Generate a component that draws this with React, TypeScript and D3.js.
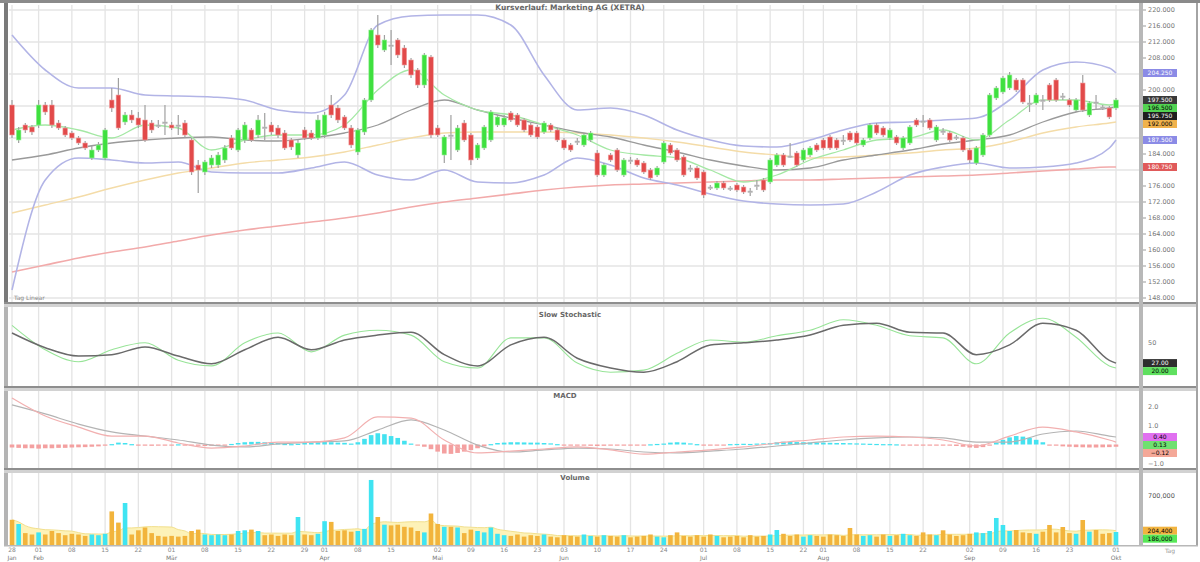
import * as d3 from "d3";
import * as React from "react";

// daily candles (price)
const opens = [
  196.25, 187.5, 191.25, 190.75, 191.25, 196.25, 196.25, 191.75, 190.5, 189.25,
  188, 186.75, 183, 185, 183, 197.5, 198.75, 192, 193.75, 193,
  192.5, 191.75, 191.25, 192, 191.25, 191.25, 191.75, 187.5, 181.25, 179.5,
  181.25, 181.25, 182.5, 188, 185, 187.5, 190, 188.75, 190.75, 191.25,
  190.5, 189.25, 187.5, 183.75, 190, 189.25, 188, 188.75, 196.25, 195.5,
  193.25, 190.5, 184.5, 189.5, 197.5, 213.75, 210, 211.25, 212.5, 210.5,
  207.5, 205, 201.25, 208.25, 190.5, 183.75, 188.75, 185, 191.75, 188.75,
  183, 185.5, 187.5, 191.25, 191.25, 194.25, 193.75, 192.5, 191.25, 190.75,
  189.5, 191.25, 190, 187.5, 186.25, 187.25, 186.25, 187.5, 184.25, 178.75,
  183.75, 185, 178.75, 182.5, 182.5, 181.75, 180, 178.75, 182, 186.25,
  185, 183.25, 180.5, 180.5, 179.5, 175.75, 175.5, 176.75, 175.5, 176.25,
  175.75, 174.75, 176.25, 177.5, 177, 181.25, 183.75, 183.5, 184.25, 182.5,
  183.75, 186.25, 187.5, 188.25, 187.5, 187.5, 189.25, 189.25, 186.25, 188,
  191.25, 190.5, 188, 188.25, 185.5, 186.75, 192.5, 192.25, 192.5, 187.5,
  189.75, 189.25, 188.25, 188, 185, 181.75, 183.75, 188.75, 198, 199.5,
  200.5, 202.5, 202.5, 196.75, 196.75, 197.5, 201.25, 202.5, 198.5, 197.5,
  195, 201.75, 193.75, 197, 195.75, 195.5, 195.5,
];
const highs = [
  197.5, 190.75, 191.75, 191.25, 197.5, 197, 197.5, 192.5, 191, 189.75,
  188.5, 187.25, 186.25, 187, 190.5, 200.5, 203, 194.5, 195, 194.5,
  196.25, 192.5, 192.5, 196.25, 192, 193.75, 192.5, 188, 182.5, 182.5,
  183.75, 184.5, 186.25, 188.75, 190.5, 192, 190.5, 193.75, 194.25, 192,
  191.25, 190, 188, 187.5, 190.75, 190, 193.75, 194.5, 198.75, 196.25,
  193.75, 191.25, 190.5, 198, 215.5, 218.75, 213.75, 215, 213, 211.25,
  208, 205.5, 209.25, 208.75, 191.25, 188.75, 193.75, 191.25, 192.5, 189.25,
  186.75, 191.25, 195, 193.75, 193.75, 194.75, 194.25, 193, 191.75, 191.25,
  192.25, 191.75, 190.5, 188, 186.75, 188, 189.25, 189.75, 185, 181.75,
  184.25, 185.5, 183, 183.25, 183, 182.25, 180.5, 181, 187.25, 186.75,
  185.5, 183.75, 181.25, 181, 180, 176.25, 177.25, 177.25, 176, 176.75,
  176.25, 175.5, 177.5, 178, 183, 184.25, 184.25, 186.75, 184.75, 185.5,
  186, 186.75, 188, 188.75, 188, 188.75, 189.75, 189.75, 188, 191.75,
  191.75, 191, 190.5, 188.75, 188.5, 191.25, 193, 193.75, 193, 191.25,
  190.5, 189.75, 188.75, 188.5, 185.5, 186, 189.25, 199.25, 201, 203.5,
  204.5, 203, 203, 198.75, 199.25, 198.75, 201.75, 203, 199.25, 198,
  198, 203.75, 197.25, 198.75, 196.25, 196, 198,
];
const lows = [
  188, 186.75, 189.25, 188.75, 190.5, 193.75, 190.5, 190, 188.25, 187.5,
  186.25, 185, 182.5, 184.5, 182.5, 194.5, 190, 191.25, 191.75, 190.5,
  187, 189.25, 190.5, 188.75, 190, 188.75, 188, 178.75, 174.25, 178.75,
  180.5, 180.5, 181.75, 185, 184.5, 186.75, 187, 188, 187.5, 188.75,
  188, 185, 185, 183, 187.5, 187.5, 187.5, 188, 193, 191.75,
  190, 185.5, 183.75, 188.75, 197, 210.5, 209.5, 206.25, 208, 205.5,
  203, 200.5, 200.5, 188, 188.25, 181.75, 182.5, 184.5, 187, 181.25,
  182.5, 185, 187, 190.75, 190.75, 192, 190.75, 189.5, 188.25, 187.75,
  189, 189.5, 187, 185, 184.5, 186.25, 185.75, 187, 178.25, 178.25,
  182, 179.5, 178.25, 181.5, 180.75, 179, 177.5, 178.25, 181.5, 183.75,
  182, 178.25, 179.5, 177.5, 173, 175, 175, 175, 174.75, 174.5,
  174, 173.5, 175, 174.5, 176.5, 180.75, 180.75, 183, 180.75, 182,
  183.25, 184.5, 185, 185, 185, 186.25, 187, 186.25, 185.75, 187.5,
  188.75, 188.25, 187.5, 186.25, 185, 186.25, 190.75, 190.75, 190, 187,
  188.75, 187, 187.5, 184.5, 181.75, 181.25, 183.25, 188.25, 197.5, 199,
  200, 199.5, 196.5, 194.5, 196.25, 195, 197, 197, 197.5, 195.75,
  194.5, 194.5, 193.25, 195, 195, 192.75, 195,
];
const closes = [
  188.75, 190, 190, 189.5, 196.25, 194.5, 191.25, 190.5, 188.75, 188,
  186.75, 185.5, 185, 186.25, 190, 195.5, 190.5, 193.75, 192.5, 191.25,
  187.5, 190, 191.25, 192, 190.5, 191.25, 188.75, 179.5, 180, 182,
  183, 183.75, 185.5, 185.5, 190, 191.25, 187.5, 192.5, 190.75, 189.5,
  188.75, 185.5, 185.75, 186.75, 188, 188, 192.5, 193.75, 193.75, 192.5,
  190.5, 186.25, 190, 197.5, 215, 211.25, 212.5, 211.25, 208.75, 206.25,
  203.75, 201.25, 208.75, 188.75, 188.75, 188.25, 188.75, 190.5, 187.5, 182.5,
  186.25, 190.75, 194.5, 193.25, 193, 192.5, 191.25, 190, 188.75, 188.25,
  191.75, 190, 187.5, 185.5, 185, 187.25, 188.75, 189.25, 178.75, 181.25,
  182.5, 180, 182.5, 182.5, 181.25, 179.5, 178, 180.5, 186.75, 184.25,
  182.5, 178.75, 180.5, 178, 173.75, 175.75, 176.75, 175.5, 175.5, 175,
  174.5, 174.75, 176.25, 175, 182.5, 183.75, 181.25, 183.5, 181.25, 185,
  185.5, 185, 185.5, 185.5, 185.5, 187.5, 187.5, 186.75, 187.5, 191.25,
  189.25, 188.75, 190, 186.75, 188, 190.75, 191.25, 192.25, 190.5, 190.75,
  189.75, 187.5, 188.25, 185, 182.5, 185.5, 188.75, 198.75, 200.5, 203,
  203.75, 200, 197, 196.75, 198.75, 197.5, 197.5, 197.5, 198.5, 196.25,
  197.5, 195, 196.75, 197, 195.75, 193.25, 197.5,
];
// volume in thousands
const volumes = [
  360, 300, 170, 150, 180, 150, 200, 170, 140, 160, 150, 130, 150, 140, 160,
  480, 320, 600, 150, 210, 250, 170, 130, 120, 130, 120, 130, 200, 220, 150,
  140, 150, 140, 150, 200, 210, 220, 200, 140, 150, 130, 150, 140, 400, 150,
  140, 160, 340, 330, 200, 210, 190, 200, 230, 929, 400, 290, 280, 290, 260,
  250, 200, 180, 450, 300, 260, 260, 250, 170, 220, 200, 180, 250, 160, 140,
  130, 150, 120, 140, 130, 150, 120, 110, 140, 130, 120, 150, 130, 120, 140,
  130, 120, 140, 110, 120, 130, 150, 120, 110, 140, 180, 130, 120, 140, 120,
  150, 130, 110, 120, 130, 110, 140, 120, 130, 150, 214, 160, 130, 150, 120,
  140, 130, 120, 150, 140, 130, 243, 150, 130, 140, 120, 150, 130, 140, 160,
  140, 130, 180, 150, 140, 210, 150, 130, 140, 160, 180, 170, 200, 386, 286,
  200, 214, 180, 170, 160, 190, 286, 180, 257, 170, 160, 357, 190, 214, 160,
  170, 186,
];

// overlays, read every 5th session (plus the last one)
const upperBand = [213.75, 205, 200.5, 200.5, 198.75, 198.5, 198.25, 197.5, 195, 194.25, 198.75, 216.25, 218.5, 218.75, 218.75, 216.25, 203.75, 195, 195.5, 193.75, 190, 187.5, 186, 185.75, 187.5, 190, 191.75, 192, 192.5, 193, 197.5, 205, 207, 205.5, 204.25];
const lowerBand = [150, 177.5, 183, 182.5, 181.75, 182, 179.5, 179.25, 179.25, 180.5, 182, 178.75, 177.5, 180, 177, 176.75, 178.75, 183, 181.25, 178, 176.25, 174, 172.25, 171.5, 171.25, 171.5, 174.5, 178.75, 180.75, 181.75, 180.5, 180.75, 181.75, 185.5, 187.5];
const maGray = [182.5, 183.75, 185.5, 186.75, 187.5, 188, 188.25, 187.5, 187.25, 188, 189.25, 191.25, 195, 197.5, 195, 193, 191.25, 189.5, 188.25, 186.25, 184.5, 182.5, 181, 180, 180.5, 182.5, 183.75, 185, 186.5, 187.5, 188.75, 192, 194.5, 195.5, 195.75];
const maGreen = [190, 191.25, 190, 188, 191.25, 190.5, 185, 187.5, 188.75, 188.75, 191.25, 200, 205, 198.75, 195, 193.75, 191.25, 188.75, 185, 183.75, 183, 180, 177, 178.75, 182.5, 185, 187.5, 188, 190, 187.5, 192.5, 197.5, 197.5, 196.25, 196.5];
const maYellow = [169.25, 171.25, 173.25, 175.5, 177.5, 179.25, 180.5, 181.75, 182.5, 183.25, 184.5, 186.25, 188, 189.25, 189.5, 189.5, 189.5, 189.25, 188.75, 188, 187, 185.75, 184.5, 183.75, 183, 183.25, 183.75, 184.25, 185, 185.5, 187, 189.25, 190.75, 191.75, 192];
const maRed = [154.5, 156.25, 158, 159.5, 160.75, 162.25, 163.75, 165, 166, 167, 168, 169.25, 170.75, 172, 173, 174, 175, 175.75, 176.25, 176.5, 176.75, 177, 177.25, 177.5, 177.5, 177.75, 178, 178.25, 178.5, 178.75, 179.25, 179.75, 180.25, 180.75, 180.75];

const stochSlow = [70, 49, 37, 39, 50, 37, 26, 46, 64, 46, 60, 67, 71, 39, 23, 53, 64, 34, 20, 14, 29, 53, 56, 60, 67, 81, 84, 71, 70, 39, 53, 84, 74, 31, 27];
const stochFast = [81, 46, 29, 46, 56, 31, 23, 56, 70, 43, 67, 74, 67, 29, 20, 63, 63, 27, 14, 17, 41, 60, 57, 66, 74, 89, 81, 66, 63, 26, 70, 91, 64, 23, 20];

const macdLine = [2.48, 1.52, 0.93, 0.45, 0.45, 0.08, -0.19, -0.08, 0.13, 0.13, 0.35, 1.47, 1.41, 0.24, -0.45, -0.35, -0.24, -0.13, -0.29, -0.51, -0.4, -0.29, -0.13, 0.08, 0.24, 0.4, 0.45, 0.4, 0.24, -0.08, 0.45, 0.93, 0.67, 0.24, 0.13];
const macdSignal = [2.11, 1.63, 1.09, 0.67, 0.45, 0.24, -0.03, -0.13, 0.03, 0.13, 0.19, 0.77, 1.31, 0.77, -0.03, -0.4, -0.29, -0.19, -0.24, -0.4, -0.45, -0.35, -0.24, -0.08, 0.08, 0.24, 0.35, 0.4, 0.35, 0.13, 0.13, 0.56, 0.72, 0.45, 0.4];
const macdHist = [
  -0.16, -0.18, -0.2, -0.2, -0.22, -0.2, -0.2, -0.18, -0.18, -0.16, -0.15, -0.14, -0.12, -0.1, -0.06,
  0.02, 0.1, 0.08, 0.02, -0.02, -0.05, -0.07, -0.06, -0.04, -0.02, 0.01, -0.02,
  -0.05, -0.07, -0.08, -0.07, -0.05, -0.02, 0.03,
  0.08, 0.12, 0.14, 0.14, 0.12, 0.1, 0.08, 0.03, 0.02, 0.04,
  0.08, 0.1, 0.12, 0.13, 0.12, 0.1, 0.09, 0.05, 0.12,
  0.3, 0.5, 0.6, 0.55, 0.45, 0.35, 0.2, 0.05, -0.05, -0.12,
  -0.25, -0.38, -0.48, -0.5, -0.45, -0.38, -0.3, -0.2, -0.1, 0.02,
  0.08, 0.1, 0.12, 0.12, 0.11, 0.1, 0.1, 0.08, 0.06, 0.02, -0.01, -0.03,
  -0.05, -0.06, -0.07, -0.08, -0.07, -0.06, -0.06, -0.05, -0.04, -0.03, -0.02,
  0.01, 0.03, 0.05, 0.1, 0.12, 0.1, 0.06,
  0.02, -0.03, -0.05, -0.04, -0.02, 0.02, 0.03, 0.04, 0.03, 0.05, 0.06, 0.08,
  0.12, 0.15, 0.14, 0.13, 0.12, 0.11, 0.1, 0.1, 0.09, 0.08, 0.08, 0.07, 0.06, 0.05, 0.04,
  0.03, 0.02, 0.02, 0.01, -0.01, -0.02, -0.03, -0.02, -0.03, -0.04, -0.05, -0.06, -0.08,
  -0.12, -0.16, -0.18, -0.14, -0.06, 0.08,
  0.25, 0.38, 0.45, 0.42, 0.35, 0.25, 0.12,
  -0.02, -0.06, -0.1, -0.12, -0.14, -0.15, -0.16, -0.16, -0.15, -0.14, -0.12,
];

const priceTicks = [220, 216, 212, 208, 204, 200, 196, 192, 188, 184, 180, 176, 172, 168, 164, 160, 156, 152, 148];
const stochTicks = [50];
const macdTicks = [2, 1, -1];
const volumeTicks = [700];
const weekTicks = [0, 4, 9, 14, 19, 24, 29, 34, 39, 44, 47, 52, 57, 64, 69, 74, 79, 83, 88, 93, 98, 104, 109, 114, 119, 122, 127, 132, 137, 144, 149, 154, 159, 166];
const weekLabels = ["28", "01", "08", "15", "22", "01", "08", "15", "22", "29", "01", "08", "15", "02", "09", "16", "23", "03", "10", "17", "24", "01", "08", "15", "22", "01", "08", "15", "22", "02", "09", "16", "23", "01"];
const monthTicks = [0, 4, 24, 47, 64, 83, 104, 122, 144, 166];
const monthLabels = ["Jan", "Feb", "Mär", "Apr", "Mai", "Jun", "Jul", "Aug", "Sep", "Okt"];

const FONT = "'DejaVu Sans', 'Liberation Sans', sans-serif";
const UP = "#3fe03f", DOWN = "#e24a4a", FLAT = "#a8a8a8";

type Tag = { y: number; fill: string; text: string; ink: string };

function stackTags(tags: Tag[]) {
    const s = tags.slice().sort((a, b) => a.y - b.y);
    for (let k = 1; k < s.length; k++) {
        if (s[k].y < s[k - 1].y + 8) s[k].y = s[k - 1].y + 8;
    }
    return s;
}

// axis labels hidden behind a value tag are simply not drawn
const freeOf = (tags: Tag[], y: number) => tags.every(t => Math.abs(t.y - y) > 8);

export default function App() {
    const n = closes.length;
    const x = d3.scaleLinear().domain([0, n - 1]).range([12, 1116]);
    const yP = d3.scaleLinear().domain([148, 220]).range([298, 10]);
    const yS = d3.scaleLinear().domain([0, 100]).range([382, 312]);
    const yM = d3.scaleLinear().domain([-1.2, 2.8]).range([467, 392]);
    const yV = d3.scaleLinear().domain([0, 1000]).range([545, 475]);

    const samples = d3.range(0, n, 5).concat([n - 1]);
    const make = (y: d3.ScaleLinear<number, number>) =>
        d3.line<number>().x((_, k) => x(samples[k])).y(v => y(v)).curve(d3.curveMonotoneX);
    const pLine = make(yP), sLine = make(yS), mLine = make(yM);

    const volMA = volumes.map((_, i) => d3.mean(volumes.slice(Math.max(0, i - 9), i + 1))!);
    const vArea = d3.area<number>().x((_, i) => x(i)).y0(yV(0)).y1(v => yV(v)).curve(d3.curveMonotoneX);
    const vLine = d3.line<number>().x((_, i) => x(i)).y(v => yV(v)).curve(d3.curveMonotoneX);

    const bw = 4.6;
    const dir = (i: number) => closes[i] > opens[i] ? 1 : closes[i] < opens[i] ? -1 : 0;
    const fmt3 = d3.format(".3f");
    const fmt2 = d3.format(".2f");
    const last = (a: number[]) => a[a.length - 1];

    const priceTags = stackTags([
        { y: yP(last(upperBand)), fill: "#8b8be6", text: fmt3(last(upperBand)), ink: "#fff" },
        { y: yP(last(closes)), fill: "#3a3a3a", text: fmt3(last(closes)), ink: "#fff" },
        { y: yP(last(maGreen)), fill: "#52d452", text: fmt3(last(maGreen)), ink: "#000" },
        { y: yP(last(maGray)), fill: "#1e1e1e", text: fmt3(last(maGray)), ink: "#fff" },
        { y: yP(last(maYellow)), fill: "#f0b24c", text: fmt3(last(maYellow)), ink: "#000" },
        { y: yP(last(lowerBand)), fill: "#8b8be6", text: fmt3(last(lowerBand)), ink: "#fff" },
        { y: yP(last(maRed)), fill: "#e05a5a", text: fmt3(last(maRed)), ink: "#fff" },
    ]);
    const stochTags = stackTags([
        { y: yS(last(stochFast)), fill: "#5fe05f", text: fmt2(last(stochFast)), ink: "#000" },
        { y: yS(last(stochSlow)), fill: "#2e2e2e", text: fmt2(last(stochSlow)), ink: "#fff" },
    ]);
    const macdTags = stackTags([
        { y: yM(last(macdSignal)), fill: "#e070f0", text: fmt2(last(macdSignal)), ink: "#000" },
        { y: yM(last(macdLine)), fill: "#70e070", text: fmt2(last(macdLine)), ink: "#000" },
        { y: yM(last(macdHist)), fill: "#f4a898", text: fmt2(last(macdHist)), ink: "#000" },
    ]);
    const volTags = stackTags([
        { y: yV(last(volumes)), fill: "#58e858", text: d3.format(",")(last(volumes) * 1000), ink: "#000" },
        { y: yV(last(volMA)), fill: "#f2b440", text: d3.format(",.0f")(last(volMA) * 1000), ink: "#000" },
    ]);

    const tagEls = (tags: Tag[], key: string) => tags.map((t, k) => (
        <g key={key + k}>
            <rect x={1143} y={t.y - 4} width={34} height={8} fill={t.fill} />
            <text x={1160} y={t.y + 2.3} fontSize={6} textAnchor="middle" fill={t.ink}>{t.text}</text>
        </g>
    ));

    const panels = [
        { id: "pMain", y: 5, h: 297 },
        { id: "pSto", y: 308, h: 78 },
        { id: "pMacd", y: 390, h: 78 },
        { id: "pVol", y: 472, h: 73 },
    ];

    return (
        <svg width={1200} height={562} style={{ position: "absolute", left: 0, top: 0, background: "#fff" }} fontFamily={FONT}>
            <defs>
                {panels.map(p => (
                    <clipPath id={p.id} key={p.id}><rect x={9} y={p.y} width={1130} height={p.h} /></clipPath>
                ))}
            </defs>

            {/* grid */}
            {weekTicks.map(i => (
                <line key={"vg" + i} x1={x(i)} x2={x(i)} y1={5} y2={545} stroke="#e4e4e4" strokeWidth={1.3} />
            ))}
            {priceTicks.filter((_, k) => k % 2 === 0).map(p => (
                <line key={"hg" + p} x1={9} x2={1139} y1={yP(p)} y2={yP(p)} stroke="#e4e4e4" strokeWidth={1.3} />
            ))}

            {/* main panel */}
            <g clipPath="url(#pMain)">
                <path d={pLine(maRed)!} fill="none" stroke="#f2aaaa" strokeWidth={1.6} />
                <path d={pLine(maYellow)!} fill="none" stroke="#f4dca8" strokeWidth={1.4} />
                <path d={pLine(upperBand)!} fill="none" stroke="#b2b4e6" strokeWidth={1.6} />
                <path d={pLine(lowerBand)!} fill="none" stroke="#b2b4e6" strokeWidth={1.6} />
                <path d={pLine(maGray)!} fill="none" stroke="#9a9a9a" strokeWidth={1.3} />
                <path d={pLine(maGreen)!} fill="none" stroke="#a4e8a4" strokeWidth={1.3} />
                {closes.map((c, i) => {
                    const d = dir(i);
                    const col = d > 0 ? UP : d < 0 ? DOWN : FLAT;
                    const top = yP(Math.max(opens[i], c));
                    const h = Math.max(1.5, Math.abs(yP(opens[i]) - yP(c)));
                    return (
                        <g key={"c" + i}>
                            <line x1={x(i)} x2={x(i)} y1={yP(highs[i])} y2={yP(lows[i])} stroke="#a0a0a0" strokeWidth={1.2} />
                            <rect x={x(i) - bw / 2} y={top} width={bw} height={h} fill={col}
                                stroke={d > 0 ? "#9cf09c" : d < 0 ? "#f2a4a4" : "#c4c4c4"} strokeWidth={0.6} />
                        </g>
                    );
                })}
            </g>
            <text x={570} y={10} fontSize={7.5} fontWeight="bold" fill="#666" textAnchor="middle">Kursverlauf: Marketing AG  (XETRA)</text>
            <text x={14} y={300} fontSize={6} fill="#888">Tag  Linear</text>

            {/* stochastic */}
            <g clipPath="url(#pSto)">
                <path d={sLine(stochFast)!} fill="none" stroke="#98e498" strokeWidth={1.1} />
                <path d={sLine(stochSlow)!} fill="none" stroke="#6a6a6a" strokeWidth={1.5} />
            </g>
            <text x={570} y={317} fontSize={7} fontWeight="bold" fill="#666" textAnchor="middle">Slow Stochastic</text>

            {/* MACD */}
            <g clipPath="url(#pMacd)">
                {macdHist.map((v, i) => (
                    <rect key={"h" + i} x={x(i) - bw / 2} width={bw}
                        y={Math.min(yM(0), yM(v))} height={Math.max(1.2, Math.abs(yM(v) - yM(0)))}
                        fill={v >= 0 ? "#44e2f0" : "#f4a0a0"} />
                ))}
                <path d={mLine(macdSignal)!} fill="none" stroke="#b4b4b4" strokeWidth={1.2} />
                <path d={mLine(macdLine)!} fill="none" stroke="#f2b0b0" strokeWidth={1.2} />
            </g>
            <text x={565} y={398} fontSize={7} fontWeight="bold" fill="#666" textAnchor="middle">MACD</text>

            {/* volume */}
            <g clipPath="url(#pVol)">
                <path d={vArea(volMA)!} fill="#fdf2b8" />
                <path d={vLine(volMA)!} fill="none" stroke="#f2e08e" strokeWidth={1} />
                {volumes.map((v, i) => (
                    <rect key={"v" + i} x={x(i) - bw / 2} width={bw} y={yV(v)} height={yV(0) - yV(v)}
                        fill={dir(i) > 0 ? "#3fe4f2" : "#f2b43c"} />
                ))}
            </g>
            <text x={575} y={480} fontSize={7} fontWeight="bold" fill="#666" textAnchor="middle">Volume</text>

            {/* frame */}
            <rect x={0} y={0} width={1200} height={3} fill="#8a8a8a" />
            <rect x={4} y={3} width={4} height={302} fill="#7a7a7a" />
            <rect x={4} y={305} width={4} height={240} fill="#b4b4b4" />
            {[302, 386, 468].map(y => (
                <g key={"sep" + y}>
                    <rect x={4} y={y} width={1194} height={2} fill="#8e8e8e" />
                    <rect x={4} y={y + 2} width={1194} height={3} fill="#d2d2d2" />
                </g>
            ))}
            <rect x={1139} y={3} width={4} height={542} fill="#b8b8b8" />
            <rect x={1196} y={3} width={2} height={542} fill="#a4a4a4" />
            <rect x={4} y={545} width={1194} height={1.5} fill="#b8b8b8" />

            {/* right axes */}
            <g fontSize={6.5} fill="#777">
                {priceTicks.map(p => (
                    <g key={"pt" + p}>
                        <line x1={1143} x2={1146} y1={yP(p)} y2={yP(p)} stroke="#999" />
                        {freeOf(priceTags, yP(p)) && <text x={1148} y={yP(p) + 2.3}>{fmt3(p)}</text>}
                    </g>
                ))}
                {stochTicks.filter(s => freeOf(stochTags, yS(s) - 4)).map(s => (
                    <text key={"st" + s} x={1148} y={yS(s) - 2}>{s}</text>
                ))}
                {macdTicks.filter(m => freeOf(macdTags, yM(m))).map(m => (
                    <text key={"mt" + m} x={1148} y={yM(m) + 2.3}>{d3.format(".1f")(m)}</text>
                ))}
                {volumeTicks.filter(v => freeOf(volTags, yV(v))).map(v => (
                    <text key={"vt" + v} x={1148} y={yV(v) + 2.3} fill="#555">{d3.format(",")(v * 1000)}</text>
                ))}
            </g>
            {tagEls(priceTags, "pt")}
            {tagEls(stochTags, "st")}
            {tagEls(macdTags, "mt")}
            {tagEls(volTags, "vt")}

            {/* time axis */}
            <g fontSize={6} fill="#888" textAnchor="middle">
                {weekTicks.map((i, k) => (
                    <text key={"wl" + i} x={x(i)} y={552}>{weekLabels[k]}</text>
                ))}
                {monthTicks.map((i, k) => (
                    <text key={"ml" + i} x={x(i)} y={560} fill="#777">{monthLabels[k]}</text>
                ))}
                <text x={1170} y={553} fill="#999">Tag</text>
            </g>
        </svg>
    );
}
